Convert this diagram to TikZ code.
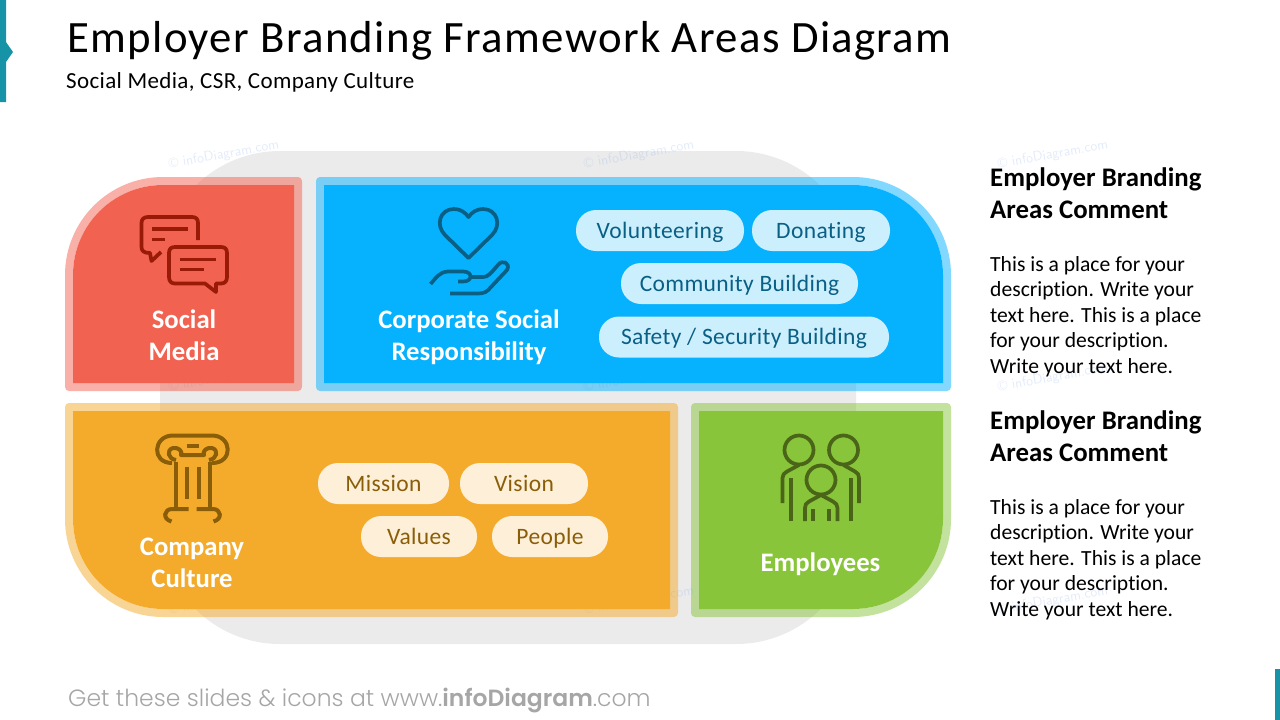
\documentclass[tikz,border=0pt]{standalone}
\usepackage{fontspec}
\setmainfont[Ligatures=NoCommon]{Carlito}
\newfontfamily\titlefont[LetterSpace=3]{Carlito}
\newfontfamily\pillfont[LetterSpace=1.6,Ligatures=NoCommon]{Carlito}
\newfontfamily\bodyfont[Ligatures=NoCommon]{Carlito}
\newfontfamily\footfont[BoldFont=Poppins SemiBold]{Poppins Light}
\usetikzlibrary{positioning}
\definecolor{tealbar}{HTML}{1793A8}
\definecolor{backgray}{HTML}{EBEBEB}
\definecolor{markblue}{HTML}{8FB0E8}
\definecolor{redfill}{HTML}{F26251}
\definecolor{redicon}{HTML}{9A1A08}
\definecolor{bluefill}{HTML}{06B2FD}
\definecolor{blueicon}{HTML}{0A5F85}
\definecolor{bluepill}{HTML}{CCEFFE}
\definecolor{orangefill}{HTML}{F4AB2B}
\definecolor{orangeicon}{HTML}{8A5E08}
\definecolor{orangepill}{HTML}{FDEFD8}
\definecolor{greenfill}{HTML}{88C53B}
\definecolor{greenicon}{HTML}{4A6418}
\definecolor{footgray}{HTML}{A6A6A6}
\tikzset{
	cardedge/.style={line width=8pt, line join=round, opacity=0.5},
	cardlabel/.style={align=center, inner sep=0pt, text=white, font=\fontsize{26.7}{32}\selectfont\bfseries},
	pillblue/.style={fill=bluepill, text=blueicon, rounded corners=20pt, minimum height=41pt, inner sep=0pt, text height=19pt, text depth=4pt, font=\pillfont\fontsize{23.5}{28}\selectfont},
	pillorange/.style={fill=orangepill, text=orangeicon, rounded corners=20pt, minimum height=41pt, inner sep=0pt, text height=19pt, text depth=4pt, font=\pillfont\fontsize{23.5}{28}\selectfont},
	iconline/.style={line width=3.7pt, line join=round},
	headtext/.style={anchor=north west, align=left, inner sep=0pt, font=\fontsize{26.8}{32}\selectfont\bfseries},
	desctext/.style={anchor=north west, align=left, inner sep=0pt, font=\bodyfont\fontsize{21.6}{25.5}\selectfont},
}
\begin{document}
\begin{tikzpicture}[x=1pt, y=-1pt]
	\useasboundingbox (0,0) rectangle (1280,720);
	% accents
	\fill [tealbar] (0,0) -- (6,0) -- (6,42) -- (13,52) -- (6,62) -- (6,102) -- (0,102) -- cycle;
	\fill [tealbar] (1275,669) rectangle (1280,720);
	% title
	\node [anchor=base west, inner sep=0pt, font=\titlefont\fontsize{44.8}{50}\selectfont] (title) at (67,52.5) {Employer Branding Framework Areas Diagram};
	\node [anchor=base west, inner sep=0pt, font=\pillfont\fontsize{23}{28}\selectfont] (subtitle) at (66,88) {Social Media, CSR, Company Culture};
	% back shape and marks
	\fill [backgray, rounded corners=120pt] (160,151) rectangle (856,644);
	\foreach \mx in {224,639,1053} {
		\foreach \my in {155,378,601} {
			\node [text=markblue, text opacity=0.25, rotate=10, font=\sffamily\fontsize{14}{16}\selectfont] at (\mx,\my) {\copyright{} infoDiagram.com};
		}
	}
	% social media card
	\draw [cardedge, draw=redfill] (69,275) .. controls (69,223.1) and (111.1,181) .. (163,181) -- (298,181) -- (298,387) -- (69,387) -- cycle;
	\fill [redfill] (73,275) .. controls (73,225.3) and (113.3,185) .. (163,185) -- (294,185) -- (294,383) -- (73,383) -- cycle;
	% csr card
	\draw [cardedge, draw=bluefill] (853,181) .. controls (904.9,181) and (947,223.1) .. (947,275) -- (947,387) -- (320,387) -- (320,181) -- cycle;
	\fill [bluefill] (853,185) .. controls (902.7,185) and (943,225.3) .. (943,275) -- (943,383) -- (324,383) -- (324,185) -- cycle;
	% culture card
	\draw [cardedge, draw=orangefill] (69,519) .. controls (69,570.9) and (111.1,613) .. (163,613) -- (674,613) -- (674,407) -- (69,407) -- cycle;
	\fill [orangefill] (73,519) .. controls (73,568.7) and (113.3,609) .. (163,609) -- (670,609) -- (670,411) -- (73,411) -- cycle;
	% employees card
	\draw [cardedge, draw=greenfill] (853,613) .. controls (904.9,613) and (947,570.9) .. (947,519) -- (947,407) -- (695,407) -- (695,613) -- cycle;
	\fill [greenfill] (853,609) .. controls (902.7,609) and (943,568.7) .. (943,519) -- (943,411) -- (699,411) -- (699,609) -- cycle;
	% card labels
	\node [cardlabel] (social) at (184,335.5) {Social\\Media};
	\node [cardlabel] (csr) at (469,337) {Corporate Social\\Responsibility};
	\node [cardlabel] (culture) at (192,563) {Company\\Culture};
	\node [cardlabel] (employees) at (820.5,564) {Employees};
	% pills
	\node [pillblue, minimum width=168pt] (volunteering) at (660,230.5) {Volunteering};
	\node [pillblue, minimum width=138pt] (donating) at (821,230.5) {Donating};
	\node [pillblue, minimum width=237pt] (community) at (739.5,283.5) {Community Building};
	\node [pillblue, minimum width=290pt] (safety) at (744,337) {Safety / Security Building};
	\node [pillorange, minimum width=131pt] (mission) at (383.5,483.5) {Mission};
	\node [pillorange, minimum width=128pt] (vision) at (524,483.5) {Vision};
	\node [pillorange, minimum width=116pt] (values) at (419,536.5) {Values};
	\node [pillorange, minimum width=116pt] (people) at (550,536.5) {People};
	% chat icon
	\draw [iconline, draw=redicon] (198,240) -- (198,223) .. controls (198,219) and (196,217) .. (192,217) -- (148,217) .. controls (144,217) and (141.5,219) .. (141.5,223) -- (141.5,247) .. controls (141.5,251) and (144,253) .. (150,253) -- (151.5,261) -- (161,252);
	\draw [iconline, draw=redicon] (175,247) -- (221,247) .. controls (225,247) and (227,249) .. (227,253) -- (227,277) .. controls (227,281) and (225,283.5) .. (221,283.5) -- (216,283.5) -- (216,292) -- (205,283.5) -- (175,283.5) .. controls (171,283.5) and (169,281) .. (169,277) -- (169,253) .. controls (169,249) and (171,247) .. (175,247) -- cycle;
	\draw [iconline, draw=redicon] (151.5,229) -- (187.5,229);
	\draw [iconline, draw=redicon] (151.5,239.5) -- (165,239.5);
	\draw [iconline, draw=redicon] (180,259.5) -- (216,259.5);
	\draw [iconline, draw=redicon] (180,269.5) -- (203.5,269.5);
	% heart and hand icon
	\draw [iconline, draw=blueicon] (468.5,258) -- (445,235) .. controls (435,225) and (440,209) .. (454,209) .. controls (460,209) and (465,212) .. (468.5,217) .. controls (472,212) and (477,209) .. (483,209) .. controls (497,209) and (502,225) .. (492,235) -- cycle;
	\draw [iconline, draw=blueicon] (430.5,284) .. controls (436,278) and (439,272) .. (448,271.5) -- (463,271.5) .. controls (473,271.5) and (473,281.5) .. (463,281.5) -- (458,281.5);
	\draw [iconline, draw=blueicon] (471,277) -- (483,277) .. controls (488,277) and (490,274) .. (498,265) .. controls (502,259) and (511,263) .. (507,270) -- (491,287) .. controls (487,292) and (484,293.5) .. (478,293.5) -- (450,293.5);
	% column icon
	\draw [iconline, draw=orangeicon, line width=4pt] (172,463) .. controls (151,463) and (153,435.5) .. (173,435.5) -- (212,435.5) .. controls (232,435.5) and (234,463) .. (212,463);
	\draw [iconline, draw=orangeicon, line width=4pt] (176,460) .. controls (168,459) and (166,450) .. (173,448) .. controls (178,447) and (183,451) .. (181,455) -- (204,455) .. controls (202,451) and (207,447) .. (212,448) .. controls (219,450) and (217,459) .. (209,460);
	\draw [iconline, draw=orangeicon, line width=4pt] (186.5,446) -- (198.5,446);
	\draw [iconline, draw=orangeicon, line width=4pt] (175.5,462) -- (175.5,509);
	\draw [iconline, draw=orangeicon, line width=4pt] (209.5,462) -- (209.5,509);
	\draw [iconline, draw=orangeicon, line width=4pt] (186.5,466.5) -- (186.5,498.5);
	\draw [iconline, draw=orangeicon, line width=4pt] (198.5,466.5) -- (198.5,498.5);
	\draw [iconline, draw=orangeicon, line width=4pt] (188.5,509) -- (172,509) .. controls (164,509) and (162,519) .. (171.5,521.5);
	\draw [iconline, draw=orangeicon, line width=4pt] (196.5,509) -- (213,509) .. controls (221,509) and (223,519) .. (213.5,521.5);
	% people icon
	\draw [iconline, draw=greenicon] (799,450) circle (14.5pt);
	\draw [iconline, draw=greenicon] (843.5,450) circle (14.5pt);
	\draw [iconline, draw=greenicon] (821,480) circle (14.5pt);
	\draw [iconline, draw=greenicon] (799,465) -- (787,471.5) .. controls (784,473) and (782.5,475) .. (782.5,478) -- (782.5,503);
	\draw [iconline, draw=greenicon] (843.5,465) -- (855,471.5) .. controls (858,473) and (859,475) .. (859,478) -- (859,503);
	\draw [iconline, draw=greenicon] (791,478) -- (791,521);
	\draw [iconline, draw=greenicon] (851,478) -- (851,521);
	\draw [iconline, draw=greenicon] (821,495) -- (809,501.5) .. controls (806,503) and (805,505) .. (805,508) -- (805,521);
	\draw [iconline, draw=greenicon] (821,495) -- (833,501.5) .. controls (836,503) and (837.5,505) .. (837.5,508) -- (837.5,521);
	\draw [iconline, draw=greenicon] (813,509) -- (813,521);
	\draw [iconline, draw=greenicon] (829,509) -- (829,521);
	% comments
	\node [headtext] (commenta) at (990,167) {Employer Branding\\Areas Comment};
	\node [desctext] (bodya) at (990,256) {This is a place for your\\description. Write your\\text here. This is a place\\for your description.\\Write your text here.};
	\node [headtext] (commentb) at (990,410) {Employer Branding\\Areas Comment};
	\node [desctext] (bodyb) at (990,499) {This is a place for your\\description. Write your\\text here. This is a place\\for your description.\\Write your text here.};
	% footer
	\node [anchor=base west, inner sep=0pt, text=footgray, font=\footfont\fontsize{23.5}{28}\selectfont] (footer) at (68,706) {Get these slides \& icons at www.\textbf{infoDiagram}.com};
\end{tikzpicture}
\end{document}
